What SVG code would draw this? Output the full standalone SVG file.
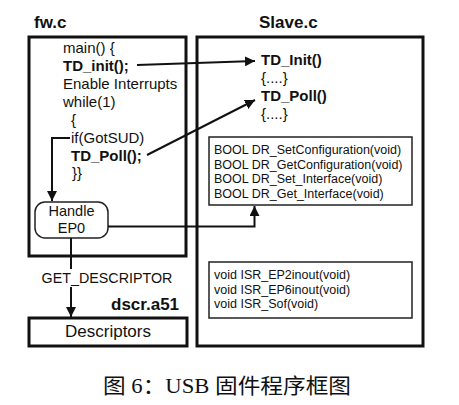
<svg xmlns="http://www.w3.org/2000/svg" width="459" height="405" viewBox="0 0 459 405">
<defs>
<style>
text{font-family:"Liberation Sans",Arial,sans-serif;fill:#111}
.b{font-weight:bold}
.code{font-size:15px}
.small{font-size:12.5px}
.big{fill:none;stroke:#111;stroke-width:3}
.thin{fill:#fff;stroke:#222;stroke-width:1.5}
.conn{fill:none;stroke:#111;stroke-width:2}
</style>
<marker id="ah" viewBox="0 0 10 10" refX="10" refY="5" markerWidth="5" markerHeight="5" markerUnits="strokeWidth" orient="auto">
<path d="M0,0 L10,5 L0,10 Z" fill="#111"/>
</marker>
</defs>
<rect width="459" height="405" fill="#fff"/>

<g id="fw">
<text x="34" y="28" class="b" font-size="17">fw.c</text>
<rect x="29" y="37" width="157" height="219" class="big"/>
<text class="code" x="63" y="53">main() {</text>
<text class="code b" x="63" y="71">TD_init();</text>
<text class="code" x="63" y="89">Enable Interrupts</text>
<text class="code" x="63" y="107">while(1)</text>
<text class="code" x="71" y="125">{</text>
<text class="code" x="71" y="143">if(GotSUD)</text>
<text class="code b" x="71" y="161">TD_Poll();</text>
<text class="code" x="72" y="178">}}</text>
</g>

<g id="handle">
<rect x="35" y="202" width="73" height="36" rx="10" ry="10" class="thin"/>
<text x="71.5" y="216" font-size="14.5" text-anchor="middle">Handle</text>
<text x="71.5" y="233" font-size="14.5" text-anchor="middle">EP0</text>
</g>

<g id="slave">
<text x="259" y="28" class="b" font-size="17">Slave.c</text>
<rect x="197" y="37" width="226" height="309" class="big"/>
<text class="code b" x="261" y="65">TD_Init()</text>
<text class="code" x="261" y="83">{....}</text>
<text class="code b" x="261" y="101">TD_Poll()</text>
<text class="code" x="261" y="119">{....}</text>
</g>

<g id="bool">
<rect x="209" y="137" width="203" height="68" class="thin"/>
<text class="small" x="214" y="154">BOOL DR_SetConfiguration(void)</text>
<text class="small" x="214" y="168.5">BOOL DR_GetConfiguration(void)</text>
<text class="small" x="214" y="183">BOOL DR_Set_Interface(void)</text>
<text class="small" x="214" y="197.5">BOOL DR_Get_Interface(void)</text>
</g>

<g id="isr">
<rect x="209" y="262" width="203" height="56" class="thin"/>
<text class="small" x="214" y="279">void ISR_EP2inout(void)</text>
<text class="small" x="214" y="293.5">void ISR_EP6inout(void)</text>
<text class="small" x="214" y="308">void ISR_Sof(void)</text>
</g>

<g id="descriptors">
<text x="111" y="310" class="b" font-size="17">dscr.a51</text>
<rect x="29" y="318" width="158" height="28" class="big"/>
<text x="108" y="337" font-size="17" text-anchor="middle">Descriptors</text>
</g>

<g id="connectors">
<path d="M137,65 L255,61" class="conn" marker-end="url(#ah)"/>
<path d="M147,155 L255,100" class="conn" marker-end="url(#ah)"/>
<path d="M70,138 H52 V201" class="conn" marker-end="url(#ah)"/>
<path d="M108,226.5 H254.5 V206" class="conn" stroke-width="2.5" marker-end="url(#ah)"/>
<path d="M71,238 V269" class="conn" stroke-width="2.5"/>
<path d="M71,287 V317" class="conn" stroke-width="2.5" marker-end="url(#ah)"/>
<text x="107" y="283" font-size="14.3" text-anchor="middle">GET_DESCRIPTOR</text>
</g>

<text x="103" y="393" font-size="21" textLength="248" lengthAdjust="spacingAndGlyphs" style="font-family:'Liberation Serif','Noto Sans CJK SC',serif">图 6：USB 固件程序框图</text>
</svg>
